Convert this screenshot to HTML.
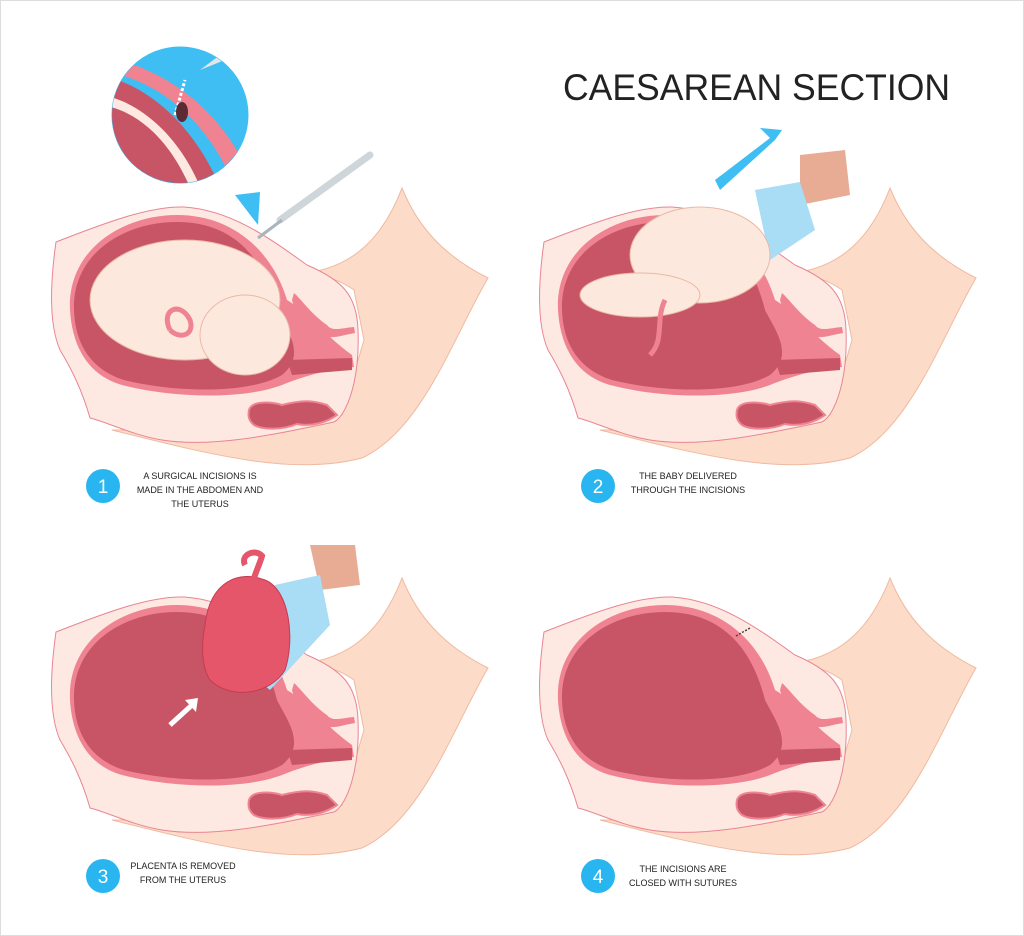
<!DOCTYPE html>
<html><head><meta charset="utf-8"><style>
html,body{margin:0;padding:0;background:#fff}
svg{display:block}
text{font-family:"Liberation Sans",sans-serif;fill:#222}
</style></head><body>
<svg width="1024" height="936" viewBox="0 0 1024 936" xmlns="http://www.w3.org/2000/svg">
<rect x="0.5" y="0.5" width="1023" height="935" fill="#fff" stroke="#ddd"/>
<defs>
<clipPath id="mag"><circle cx="180" cy="115" r="68"/></clipPath>
<g id="body">
  <path d="M890,578 C905,615 930,645 976,668 C940,730 910,820 850,848 C780,866 700,845 600,820 L700,820 L830,805 L852,730 L842,680 C825,668 810,666 800,662 C840,655 870,630 890,578 Z" fill="#fcdcc8" stroke="#f0b9a0" stroke-width="1"/>
  <path d="M544,632 C600,610 640,596 672,597 C720,600 760,630 795,655 C830,670 845,685 846,720 C848,770 835,805 822,812 C760,825 700,838 650,830 C620,825 595,812 578,808 C570,780 560,760 548,740 C535,710 540,660 544,632 Z" fill="#fde9e1" stroke="#e98593" stroke-width="1"/>
  <path d="M558,700 C555,640 610,605 665,605 C720,605 760,640 775,690 C800,705 812,725 840,745 L842,757 C815,760 795,765 770,775 C730,790 660,788 610,775 C575,765 560,735 558,700 Z" fill="#ef8392"/>
  <path d="M562,700 C560,645 610,612 665,612 C715,612 750,640 765,700 C775,720 795,745 770,765 C735,785 660,782 612,770 C580,760 563,735 562,700 Z" fill="#c75565"/>
  <path d="M782,683 C790,690 800,705 815,715 C820,722 830,718 842,717 L843,723 C830,725 820,730 810,725 C795,715 782,700 780,690 Z" fill="#ef8392"/>
  <path d="M775,750 L840,748 L840,760 L780,765 Z" fill="#c75565"/>
  <path d="M737,800 C740,790 760,792 770,795 C790,790 800,790 815,795 L825,805 C815,812 800,817 785,814 C770,820 750,820 742,815 C736,810 736,805 737,800 Z" fill="#c75565" stroke="#ef8392" stroke-width="2"/>
</g>
</defs>

<text x="563" y="100" font-size="37" textLength="387" lengthAdjust="spacingAndGlyphs">CAESAREAN SECTION</text>

<!-- panel 1 -->
<g transform="translate(-488,-390)"><use href="#body"/></g>
<ellipse cx="185" cy="300" rx="95" ry="60" fill="#fde8dd" stroke="#e9b9a6"/>
<ellipse cx="245" cy="335" rx="45" ry="40" fill="#fde8dd" stroke="#e9b9a6"/>
<path d="M170,330 C160,310 180,300 190,320 C195,335 180,340 170,330" fill="none" stroke="#ef8392" stroke-width="5"/>
<circle cx="180" cy="115" r="70" fill="#3fbef3" stroke="#fff" stroke-width="3"/>
<g clip-path="url(#mag)">
<path d="M100,75 C150,85 200,130 225,200 L120,200 L100,200 Z" fill="#c75565"/>
<path d="M100,70 C160,80 205,120 232,180 L250,175 C220,110 170,70 100,55 Z" fill="#ef8392"/>
<path d="M100,95 C140,100 185,140 205,200 L195,200 C175,145 140,110 100,105 Z" fill="#fde9e1"/>
<path d="M175,115 L185,80" stroke="#fff" stroke-width="3" stroke-dasharray="3,2"/>
<ellipse cx="182" cy="112" rx="6" ry="10" fill="#5b2a33"/>
<path d="M200,70 L240,40 L250,50 Z" fill="#e0e6ea"/>
</g>
<path d="M235,195 L258,225 L260,192 Z" fill="#3fbef3"/>
<path d="M280,220 L370,155" stroke="#cfd6da" stroke-width="7" stroke-linecap="round"/>
<path d="M258,238 L282,220" stroke="#aab5bb" stroke-width="3"/>
<circle cx="103" cy="486" r="17" fill="#29b6f0"/>
<text x="103" y="493" font-size="19" text-anchor="middle" style="fill:#fff">1</text>
<text x="200" y="479" font-size="9" text-anchor="middle">A SURGICAL INCISIONS IS</text>
<text x="200" y="493" font-size="9" text-anchor="middle">MADE IN THE ABDOMEN AND</text>
<text x="200" y="507" font-size="9" text-anchor="middle">THE UTERUS</text>

<!-- panel 2 -->
<g transform="translate(0,-390)"><use href="#body"/></g>
<path d="M800,155 L845,150 L850,195 L800,205 Z" fill="#e8ab93"/>
<path d="M755,190 L800,182 L815,230 L770,260 Z" fill="#a9dcf5"/>
<ellipse cx="700" cy="255" rx="70" ry="48" fill="#fde8dd" stroke="#e9b9a6"/>
<ellipse cx="640" cy="295" rx="60" ry="22" fill="#fde8dd" stroke="#e9b9a6"/>
<path d="M720,190 L775,140 L782,130 L760,128 L770,138 L715,180 Z" fill="#3fbef3"/>
<path d="M665,300 C655,320 665,340 650,355" fill="none" stroke="#ef8392" stroke-width="5"/>
<circle cx="598" cy="486" r="17" fill="#29b6f0"/>
<text x="598" y="493" font-size="19" text-anchor="middle" style="fill:#fff">2</text>
<text x="688" y="479" font-size="9" text-anchor="middle">THE BABY DELIVERED</text>
<text x="688" y="493" font-size="9" text-anchor="middle">THROUGH THE INCISIONS</text>

<!-- panel 3 -->
<g transform="translate(-488,0)"><use href="#body"/></g>
<path d="M310,545 L355,545 L360,585 L320,590 Z" fill="#e8ab93"/>
<path d="M275,585 L320,575 L330,625 L270,690 L245,670 Z" fill="#a9dcf5"/>
<path d="M205,625 C210,580 240,570 265,580 C290,590 295,640 285,670 C270,695 230,700 210,680 C200,665 202,640 205,625 Z" fill="#e5566a" stroke="#c63b50"/>
<path d="M245,565 C240,555 255,548 262,556 C258,570 250,580 252,600" fill="none" stroke="#e5566a" stroke-width="6"/>
<path d="M170,725 L192,705" stroke="#fff" stroke-width="5"/>
<path d="M185,700 L198,698 L196,712 Z" fill="#fff"/>
<circle cx="103" cy="876" r="17" fill="#29b6f0"/>
<text x="103" y="883" font-size="19" text-anchor="middle" style="fill:#fff">3</text>
<text x="183" y="869" font-size="9" text-anchor="middle">PLACENTA IS REMOVED</text>
<text x="183" y="883" font-size="9" text-anchor="middle">FROM THE UTERUS</text>

<!-- panel 4 -->
<use href="#body"/>
<path d="M736,636 L750,628" stroke="#444" stroke-width="1.5" stroke-dasharray="2,1.5"/>
<circle cx="598" cy="876" r="17" fill="#29b6f0"/>
<text x="598" y="883" font-size="19" text-anchor="middle" style="fill:#fff">4</text>
<text x="683" y="872" font-size="9" text-anchor="middle">THE INCISIONS ARE</text>
<text x="683" y="886" font-size="9" text-anchor="middle">CLOSED WITH SUTURES</text>
</svg>
</body></html>
